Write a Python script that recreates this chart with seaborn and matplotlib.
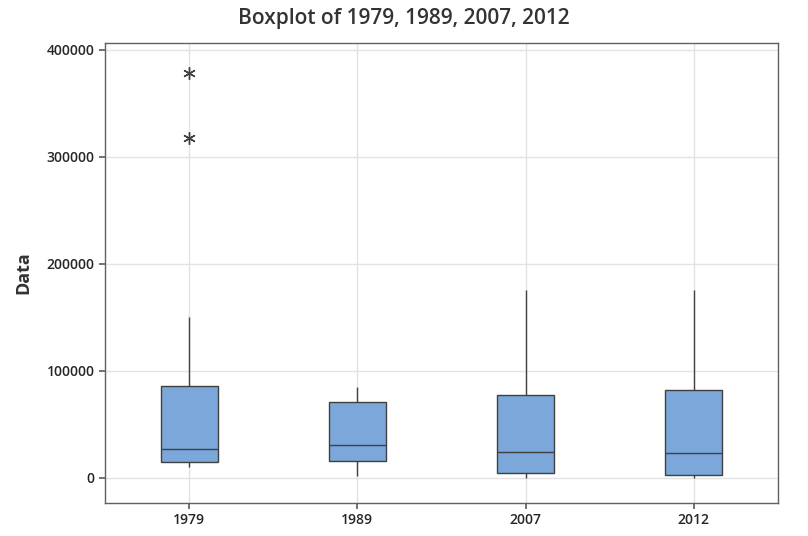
import matplotlib
matplotlib.use("Agg")
import matplotlib.pyplot as plt
import pandas as pd
import seaborn as sns

# Werte so gewählt, dass Quartile/Whisker dem Original entsprechen
years = ["1979", "1989", "2007", "2012"]
v1979 = [10000, 12000, 14000, 15000, 18000, 22000, 27000, 40000, 60000, 86000, 150000, 318000, 378000]
v1989 = [2000, 16000, 31000, 71000, 85000]
v2007 = [0, 5000, 24000, 78000, 176000]
v2012 = [0, 3000, 23000, 82000, 176000]

rows = []
for y, vals in zip(years, [v1979, v1989, v2007, v2012]):
    rows += [(y, v) for v in vals]
df = pd.DataFrame(rows, columns=["year", "value"])

sns.set_theme(style="white")
plt.rcParams["font.family"] = ["Open Sans", "DejaVu Sans"]

fig = plt.figure(figsize=(8.08, 5.36), dpi=100)
ax = fig.add_axes([105 / 808, 1 - 503 / 536, 673 / 808, 460 / 536])

edge = "#404040"
sns.boxplot(data=df, x="year", y="value", order=years, ax=ax, width=0.34,
            color="#7BA7DB", saturation=1, linewidth=1, linecolor=edge,
            whis=1.5,
            flierprops=dict(marker=(6, 2, 0), markersize=9, markeredgecolor=edge, markeredgewidth=1),
            capprops=dict(linewidth=0))

ax.set_xlim(-0.5, 3.5)
ax.set_ylim(-23400, 406500)
ax.set_yticks([0, 100000, 200000, 300000, 400000])
ax.set_yticklabels(["0", "100000", "200000", "300000", "400000"])
ax.grid(True, color="#e3e3e3", linewidth=1)
ax.set_axisbelow(True)
for s in ax.spines.values():
    s.set_color("#606060")
    s.set_linewidth(1)
ax.tick_params(axis="both", labelsize=10, length=4, color="#606060", bottom=True, left=True)
for lab in ax.get_xticklabels() + ax.get_yticklabels():
    lab.set_fontweight("semibold")
ax.set_xlabel("")
ax.set_ylabel("Data", fontsize=13, fontweight="bold", color="#333333", labelpad=10)
fig.suptitle("Boxplot of 1979, 1989, 2007, 2012", fontsize=15, fontweight="semibold",
             color="#333333", y=0.985)

fig.savefig("out.png", dpi=100)
